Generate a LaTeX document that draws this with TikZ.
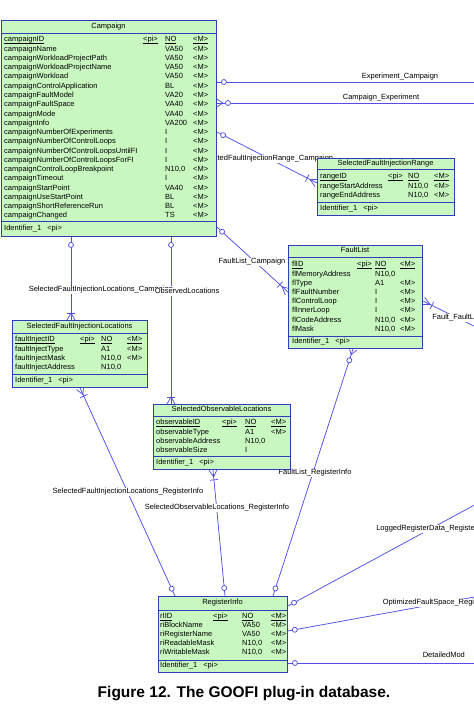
\documentclass[tikz,border=0pt]{standalone}
\usepackage{fontspec}
\setmainfont{Liberation Sans}
\usetikzlibrary{calc,backgrounds}
\definecolor{boxfill}{RGB}{200,248,192}
\definecolor{boxline}{RGB}{48,60,190}
\definecolor{conn}{RGB}{80,80,232}
\tikzset{
 ent/.style={draw=boxline, fill=boxfill, line width=0.9pt, rectangle, inner sep=0, anchor=north west},
 sepline/.style={draw=boxline, line width=0.8pt},
 cell/.style={inner sep=0, anchor=west, font=\fontsize{7.5}{8}\selectfont, text height=5.4pt, text depth=1.5pt},
 ttl/.style={inner sep=0, anchor=center, font=\fontsize{7.5}{8}\selectfont, text height=5.4pt, text depth=1.5pt},
 link/.style={draw=conn, line width=0.75pt},
 lbl/.style={font=\fontsize{7.5}{8}\selectfont, fill=white, inner sep=0.6pt, text height=5.4pt, text depth=1.5pt},
 lblnf/.style={lbl, fill=none},
 ocirc/.style={circle, draw=conn, fill=white, line width=0.75pt, minimum size=5pt, inner sep=0},
}
\newcommand\mkcirc[3]{\node[ocirc] (o#1) at ($(#1)!#3pt!(#2)$) {};}
\newcommand\mkcrow[3]{%
  \coordinate (t#1) at ($(#1)!#3pt!(#2)$);
  \draw[link] ($(#1)!4pt!90:(#2)$) -- (t#1) -- ($(#1)!4pt!-90:(#2)$);}
\newcommand\mkbar[3]{%
  \coordinate (k#1) at ($(#1)!#3pt!(#2)$);
  \draw[link] ($(k#1)!4pt!90:(#2)$) -- ($(k#1)!4pt!-90:(#2)$);}
\newlength\pkw
\newcommand\pkey[1]{\settowidth\pkw{#1}\rlap{\rule[-1.2pt]{\pkw}{0.45pt}}#1}

\begin{document}
\begin{tikzpicture}[x=1pt,y=-1pt]
\useasboundingbox (0,0) rectangle (474,705);

% ---------------- Campaign
\node[ent, minimum width=215, minimum height=216] (camp) at (1,20) {};
\node[ttl] (campTitle) at (108.5,27) {Campaign};
\draw[sepline] (1,33) -- (216,33);
\draw[sepline] (1,221) -- (216,221);
\node[cell] (campN0) at (4,40) {\pkey{campaignID}};
\node[cell] (campP0) at (143,40) {\pkey{<pi>}};
\node[cell] (campT0) at (165,40) {\pkey{NO}};
\node[cell] (campM0) at (193,40) {\pkey{<M>}};
\foreach \na/\ty/\mm [count=\i] in {
 campaignName/VA50/<M>,
 campaignWorkloadProjectPath/VA50/<M>,
 campaignWorkloadProjectName/VA50/<M>,
 campaignWorkload/VA50/<M>,
 campaignControlApplication/BL/<M>,
 campaignFaultModel/VA20/<M>,
 campaignFaultSpace/VA40/<M>,
 campaignMode/VA40/<M>,
 campaignInfo/VA200/<M>,
 campaignNumberOfExperiments/I/<M>,
 campaignNumberOfControlLoops/I/<M>,
 campaignNumberOfControlLoopsUntilFI/I/<M>,
 campaignNumberOfControlLoopsForFI/I/<M>,
 {campaignControlLoopBreakpoint/N10,0/<M>},
 campaignTimeout/I/<M>,
 campaignStartPoint/VA40/<M>,
 campaignUseStartPoint/BL/<M>,
 campaignShortReferenceRun/BL/<M>,
 campaignChanged/TS/<M>}{
 \node[cell] (campN\i) at (4,{40+9.26*\i}) {\na};
 \node[cell] (campT\i) at (165,{40+9.26*\i}) {\ty};
 \node[cell] (campM\i) at (193,{40+9.26*\i}) {\mm};
}
\node[cell] (campId) at (4,229) {Identifier\_1\hspace{6pt}<pi>};

% ---------------- SelectedFaultInjectionRange
\node[ent, minimum width=137, minimum height=57] (sfir) at (317,158) {};
\node[ttl] (sfirTitle) at (385.5,164) {SelectedFaultInjectionRange};
\draw[sepline] (317,169.5) -- (454,169.5);
\draw[sepline] (317,202) -- (454,202);
\node[cell] (sfirN0) at (320,177) {\pkey{rangeID}};
\node[cell] (sfirP0) at (388,177) {\pkey{<pi>}};
\node[cell] (sfirT0) at (408,177) {\pkey{NO}};
\node[cell] (sfirM0) at (434,177) {\pkey{<M>}};
\foreach \na/\ty/\mm [count=\i] in {
 {rangeStartAddress/N10,0/<M>},
 {rangeEndAddress/N10,0/<M>}}{
 \node[cell] (sfirN\i) at (320,{177+9.3*\i}) {\na};
 \node[cell] (sfirT\i) at (408,{177+9.3*\i}) {\ty};
 \node[cell] (sfirM\i) at (434,{177+9.3*\i}) {\mm};
}
\node[cell] (sfirId) at (320,208.5) {Identifier\_1\hspace{6pt}<pi>};

% ---------------- FaultList
\node[ent, minimum width=134, minimum height=103] (fl) at (288,245) {};
\node[ttl] (flTitle) at (355,251) {FaultList};
\draw[sepline] (288,257) -- (422,257);
\draw[sepline] (288,336) -- (422,336);
\node[cell] (flN0) at (292,265) {\pkey{flID}};
\node[cell] (flP0) at (357,265) {\pkey{<pi>}};
\node[cell] (flT0) at (375,265) {\pkey{NO}};
\node[cell] (flM0) at (400,265) {\pkey{<M>}};
\foreach \na/\ty/\mm [count=\i] in {
 {flMemoryAddress/N10,0/},
 flType/A1/<M>,
 flFaultNumber/I/<M>,
 flControlLoop/I/<M>,
 flInnerLoop/I/<M>,
 {flCodeAddress/N10,0/<M>},
 {flMask/N10,0/<M>}}{
 \node[cell] (flN\i) at (292,{265+9.2*\i}) {\na};
 \node[cell] (flT\i) at (375,{265+9.2*\i}) {\ty};
 \node[cell] (flM\i) at (400,{265+9.2*\i}) {\mm};
}
\node[cell] (flId) at (292,342) {Identifier\_1\hspace{6pt}<pi>};

% ---------------- SelectedFaultInjectionLocations
\node[ent, minimum width=135, minimum height=67] (sfil) at (12,320) {};
\node[ttl] (sfilTitle) at (79.5,327) {SelectedFaultInjectionLocations};
\draw[sepline] (12,333) -- (147,333);
\draw[sepline] (12,374) -- (147,374);
\node[cell] (sfilN0) at (15,340) {\pkey{faultInjectID}};
\node[cell] (sfilP0) at (80,340) {\pkey{<pi>}};
\node[cell] (sfilT0) at (101,340) {\pkey{NO}};
\node[cell] (sfilM0) at (127,340) {\pkey{<M>}};
\foreach \na/\ty/\mm [count=\i] in {
 faultInjectType/A1/<M>,
 {faultInjectMask/N10,0/<M>},
 {faultInjectAddress/N10,0/}}{
 \node[cell] (sfilN\i) at (15,{340+9.3*\i}) {\na};
 \node[cell] (sfilT\i) at (101,{340+9.3*\i}) {\ty};
 \node[cell] (sfilM\i) at (127,{340+9.3*\i}) {\mm};
}
\node[cell] (sfilId) at (15,380.5) {Identifier\_1\hspace{6pt}<pi>};

% ---------------- SelectedObservableLocations
\node[ent, minimum width=137, minimum height=65] (sol) at (153,404) {};
\node[ttl] (solTitle) at (221.5,410) {SelectedObservableLocations};
\draw[sepline] (153,416) -- (290,416);
\draw[sepline] (153,456) -- (290,456);
\node[cell] (solN0) at (156,423) {\pkey{observableID}};
\node[cell] (solP0) at (222,423) {\pkey{<pi>}};
\node[cell] (solT0) at (245,423) {\pkey{NO}};
\node[cell] (solM0) at (271,423) {\pkey{<M>}};
\foreach \na/\ty/\mm [count=\i] in {
 observableType/A1/<M>,
 {observableAddress/N10,0/},
 observableSize/I/}{
 \node[cell] (solN\i) at (156,{423+9.2*\i}) {\na};
 \node[cell] (solT\i) at (245,{423+9.2*\i}) {\ty};
 \node[cell] (solM\i) at (271,{423+9.2*\i}) {\mm};
}
\node[cell] (solId) at (156,462.5) {Identifier\_1\hspace{6pt}<pi>};

% ---------------- RegisterInfo
\node[ent, minimum width=129, minimum height=76] (ri) at (158,596) {};
\node[ttl] (riTitle) at (222.5,603) {RegisterInfo};
\draw[sepline] (158,610) -- (287,610);
\draw[sepline] (158,660) -- (287,660);
\node[cell] (riN0) at (160,617) {\pkey{rIID}};
\node[cell] (riP0) at (213,617) {\pkey{<pi>}};
\node[cell] (riT0) at (242,617) {\pkey{NO}};
\node[cell] (riM0) at (271,617) {\pkey{<M>}};
\foreach \na/\ty/\mm [count=\i] in {
 riBlockName/VA50/<M>,
 riRegisterName/VA50/<M>,
 {riReadableMask/N10,0/<M>},
 {riWritableMask/N10,0/<M>}}{
 \node[cell] (riN\i) at (160,{617+8.9*\i}) {\na};
 \node[cell] (riT\i) at (242,{617+8.9*\i}) {\ty};
 \node[cell] (riM\i) at (271,{617+8.9*\i}) {\mm};
}
\node[cell] (riId) at (160,666) {Identifier\_1\hspace{6pt}<pi>};

% ---------------- caption
\node[font=\fontsize{15.5}{18}\bfseries\selectfont, anchor=base, inner sep=0] (caption) at (244,697) {Figure 12. The GOOFI plug-in database.};

% ---------------- connectors (behind the entities)
\begin{pgfonlayer}{background}
\fill[white] (0,0) rectangle (474,705);
\begin{scope}
\clip (0,0) rectangle (474,705);
\coordinate (a1) at (camp.east |- 0,82);   \coordinate (b1) at (480,82);
\coordinate (a2) at (camp.east |- 0,103);  \coordinate (b2) at (480,103);
\coordinate (a3) at (camp.east |- 0,132);  \coordinate (b3) at (sfir.west |- 0,183);
\coordinate (a4) at (camp.east |- 0,227);  \coordinate (b4) at (fl.west |- 0,292);
\coordinate (a5) at (camp.south -| 71,0);  \coordinate (b5) at (sfil.north -| 71,0);
\coordinate (a6) at (camp.south -| 171,0); \coordinate (b6) at (sol.north -| 171,0);
\coordinate (a7) at (fl.east |- 0,301);    \coordinate (b7) at (480,329);
\coordinate (a8) at (fl.south -| 353,0);   \coordinate (b8) at (ri.north -| 273,0);
\coordinate (a9) at (sfil.south -| 80,0);  \coordinate (b9) at (ri.north -| 175,0);
\coordinate (a10) at (sol.south -| 213,0); \coordinate (b10) at (ri.north -| 225,0);
\coordinate (a11) at (ri.east |- 0,606);   \coordinate (b11) at (480,502);
\coordinate (a12) at (ri.east |- 0,631);   \coordinate (b12) at (480,596);
\coordinate (a13) at (ri.east |- 0,663);   \coordinate (b13) at (480,663);
\foreach \k in {1,...,13}{\draw[link] (a\k) -- (b\k);}
% labels
\node[lblnf] (l1) at (400,77) {Experiment\_Campaign};
\node[lblnf] (l2) at (381,97.5) {Campaign\_Experiment};
\node[lbl] (l3) at (266,159) {SelectedFaultInjectionRange\_Campaign};
\node[lbl] (l4) at (252,262) {FaultList\_Campaign};
\node[lbl, anchor=west] (l5) at (28,290) {SelectedFaultInjectionLocations\_Campaign};
\node[lbl, anchor=west] (l6) at (154,292) {ObservedLocations};
\node[lbl] (l7) at (457,318) {Fault\_FaultList};
\node[lbl] (l8) at (315,473) {FaultList\_RegisterInfo};
\node[lbl] (l9) at (128,492) {SelectedFaultInjectionLocations\_RegisterInfo};
\node[lbl] (l10) at (217,508) {SelectedObservableLocations\_RegisterInfo};
\node[lbl] (l11) at (433,529) {LoggedRegisterData\_RegisterInfo};
\node[lbl] (l12) at (441,603) {OptimizedFaultSpace\_RegisterInfo};
\node[lblnf, anchor=west] (l13) at (422,656) {DetailedMod};
% end markers
\mkcirc{a1}{b1}{7}
\mkcrow{a2}{b2}{6}
\mkcirc{a2}{b2}{11}
\mkcirc{a3}{b3}{7}
\mkcrow{b3}{a3}{8}\mkbar{b3}{a3}{11}
\mkcirc{a4}{b4}{7}
\mkcrow{b4}{a4}{8}\mkbar{b4}{a4}{11}
\mkcirc{a5}{b5}{8}
\mkcrow{b5}{a5}{7}\mkbar{b5}{a5}{7}
\mkcirc{a6}{b6}{8}
\mkcrow{b6}{a6}{7}\mkbar{b6}{a6}{7}
\mkcrow{a7}{b7}{8}\mkbar{a7}{b7}{10}
\mkcrow{a8}{b8}{6}
\mkcirc{a8}{b8}{12}
\mkcirc{b8}{a8}{8}
\mkcrow{a9}{b9}{7}\mkbar{a9}{b9}{9}
\mkcirc{b9}{a9}{8}
\mkcrow{a10}{b10}{7}\mkbar{a10}{b10}{10}
\mkcirc{b10}{a10}{8}
\mkcirc{a11}{b11}{7}
\mkcirc{a12}{b12}{7}
\mkcirc{a13}{b13}{7}
\end{scope}
\end{pgfonlayer}
\end{tikzpicture}
\end{document}
